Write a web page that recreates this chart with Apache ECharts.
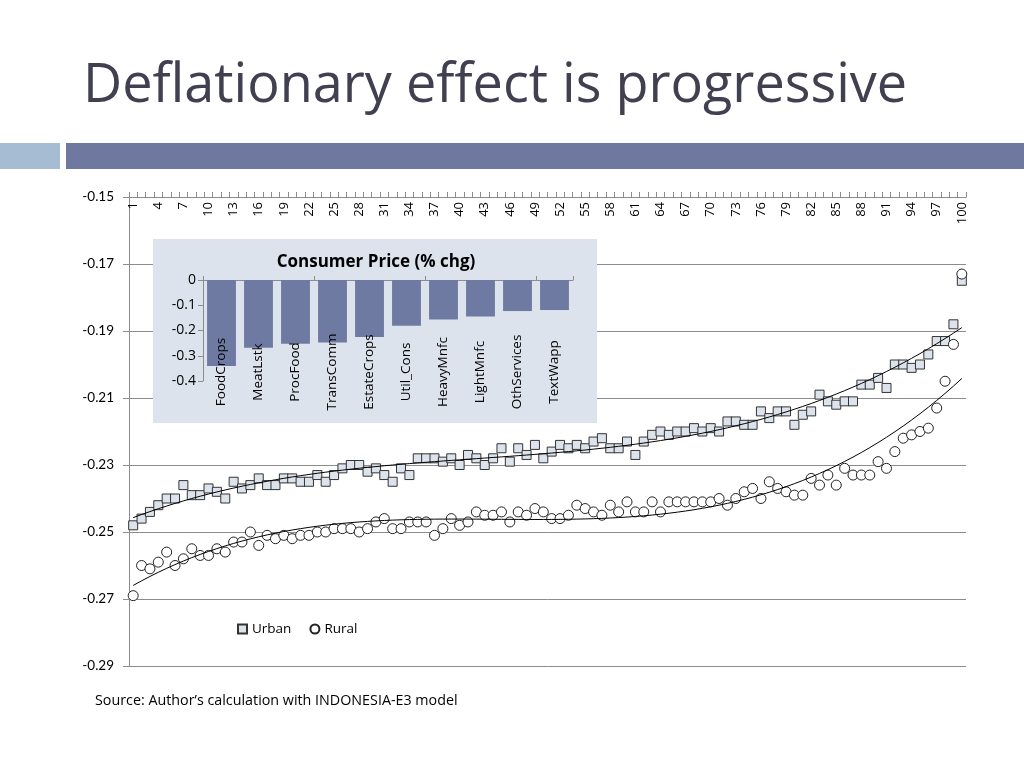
<!DOCTYPE html>
<html lang="en">
<head>
    <meta charset="UTF-8">
    <script src="https://cdn.jsdelivr.net/npm/echarts@6/dist/echarts.min.js"></script>
    <title>Deflationary effect is progressive</title>
    <style>
        html, body {
            margin: 0;
            padding: 0;
            background: #fff;
        }
        #main {
            width: 1024px;
            height: 768px;
        }
    </style>
</head>
<body>
    <div id="main"></div>
    <script>
        // household index 1..100 (category axis)
        const households = []
        for (let i = 1; i <= 100; i++) households.push(String(i))

        // price change per household
        const urban = [
            -0.248, -0.246, -0.244, -0.242, -0.240, -0.240, -0.236, -0.239, -0.239, -0.237,
            -0.238, -0.240, -0.235, -0.237, -0.236, -0.234, -0.236, -0.236, -0.234, -0.234,
            -0.235, -0.235, -0.233, -0.235, -0.233, -0.231, -0.230, -0.230, -0.232, -0.231,
            -0.233, -0.235, -0.231, -0.233, -0.228, -0.228, -0.228, -0.229, -0.228, -0.230,
            -0.227, -0.228, -0.230, -0.228, -0.225, -0.229, -0.225, -0.227, -0.224, -0.228,
            -0.226, -0.224, -0.225, -0.224, -0.225, -0.223, -0.222, -0.225, -0.225, -0.223,
            -0.227, -0.223, -0.221, -0.220, -0.221, -0.220, -0.220, -0.219, -0.220, -0.219,
            -0.220, -0.217, -0.217, -0.218, -0.218, -0.214, -0.216, -0.214, -0.214, -0.218,
            -0.215, -0.214, -0.209, -0.211, -0.212, -0.211, -0.211, -0.206, -0.206, -0.204,
            -0.207, -0.200, -0.200, -0.201, -0.200, -0.197, -0.193, -0.193, -0.188, -0.175
        ]
        const rural = [
            -0.269, -0.260, -0.261, -0.259, -0.256, -0.260, -0.258, -0.255, -0.257, -0.257,
            -0.255, -0.256, -0.253, -0.253, -0.250, -0.254, -0.251, -0.252, -0.251, -0.252,
            -0.251, -0.251, -0.250, -0.250, -0.249, -0.249, -0.249, -0.250, -0.249, -0.247,
            -0.246, -0.249, -0.249, -0.247, -0.247, -0.247, -0.251, -0.249, -0.246, -0.248,
            -0.247, -0.244, -0.245, -0.245, -0.244, -0.247, -0.244, -0.245, -0.243, -0.244,
            -0.246, -0.246, -0.245, -0.242, -0.243, -0.244, -0.245, -0.242, -0.244, -0.241,
            -0.244, -0.244, -0.241, -0.244, -0.241, -0.241, -0.241, -0.241, -0.241, -0.241,
            -0.240, -0.242, -0.240, -0.238, -0.237, -0.240, -0.235, -0.237, -0.238, -0.239,
            -0.239, -0.234, -0.236, -0.233, -0.236, -0.231, -0.233, -0.233, -0.233, -0.229,
            -0.231, -0.226, -0.222, -0.221, -0.220, -0.219, -0.213, -0.205, -0.194, -0.173
        ]
        const yTicks = [-0.29, -0.27, -0.25, -0.23, -0.21, -0.19, -0.17, -0.15]

        // inset: consumer price change by commodity
        const sectors = ['FoodCrops', 'MeatLstk', 'ProcFood', 'TransComm', 'EstateCrops',
            'Util_Cons', 'HeavyMnfc', 'LightMnfc', 'OthServices', 'TextWapp']
        const priceChg = [-0.341, -0.268, -0.252, -0.248, -0.226, -0.181, -0.156, -0.145, -0.123, -0.119]

        // 3rd order polynomial trend (least squares), like the spreadsheet trendline
        function polyTrend(ys, deg) {
            const n = ys.length
            const ts = ys.map((y, i) => (i - (n - 1) / 2) / ((n - 1) / 2))
            const m = deg + 1
            const A = []
            for (let r = 0; r < m; r++) {
                A.push([])
                for (let c = 0; c < m; c++) {
                    let s = 0
                    ts.forEach(t => { s += Math.pow(t, r + c) })
                    A[r].push(s)
                }
                let b = 0
                ts.forEach((t, i) => { b += Math.pow(t, r) * ys[i] })
                A[r].push(b)
            }
            for (let p = 0; p < m; p++) {
                let best = p
                for (let r = p + 1; r < m; r++) if (Math.abs(A[r][p]) > Math.abs(A[best][p])) best = r
                const tmp = A[p]; A[p] = A[best]; A[best] = tmp
                for (let r = 0; r < m; r++) {
                    if (r === p) continue
                    const f = A[r][p] / A[p][p]
                    for (let c = p; c <= m; c++) A[r][c] -= f * A[p][c]
                }
            }
            const coef = A.map((row, i) => row[m] / row[i])
            return ts.map(t => coef.reduce((s, k, i) => s + k * Math.pow(t, i), 0))
        }

        const font = 'Lato, "Noto Sans", sans-serif'
        const wideFont = '"Open Sans", Lato, sans-serif'
        const axisGray = '#8c8c8c'

        let myChart = echarts.init(document.getElementById('main'))
        let option = {
            backgroundColor: '#fff',
            animation: false,
            textStyle: { fontFamily: font },
            title: {
                text: 'Deflationary effect is progressive',
                left: 78,
                top: 55,
                textStyle: { fontSize: 54, fontWeight: 'normal', color: '#404050', fontFamily: wideFont }
            },
            legend: {
                data: ['Urban', 'Rural'],
                left: 232,
                top: 617,
                itemWidth: 9,
                itemHeight: 9,
                itemGap: 18,
                textStyle: { fontSize: 13.5, color: '#000', fontFamily: wideFont }
            },
            graphic: [
                { type: 'rect', shape: { x: 0, y: 143, width: 60, height: 26 }, style: { fill: '#a5bcd2' }, z: 1 },
                { type: 'rect', shape: { x: 66, y: 143, width: 958, height: 26 }, style: { fill: '#6f799f' }, z: 1 },
                { type: 'rect', shape: { x: 153, y: 239, width: 444, height: 184 }, style: { fill: '#dce3ec' }, z: 5 },
                {
                    type: 'text', x: 376, y: 262, z: 20,
                    style: { text: 'Consumer Price (% chg)', fill: '#000', font: 'bold 17px ' + wideFont, textAlign: 'center', textVerticalAlign: 'middle' }
                },
                {
                    type: 'text', x: 95, y: 701, z: 1,
                    style: { text: 'Source: Author’s calculation with INDONESIA-E3 model', fill: '#000', font: '14.3px ' + wideFont, textVerticalAlign: 'middle' }
                }
            ],
            grid: [
                { left: 129, right: 58, top: 197, bottom: 102 },
                { left: 203, right: 451, top: 280, bottom: 387, z: 10 }
            ],
            xAxis: [
                {
                    type: 'category',
                    gridIndex: 0,
                    position: 'top',
                    data: households,
                    boundaryGap: true,
                    axisLine: { lineStyle: { color: axisGray } },
                    axisTick: { show: true, interval: 0, length: 5, lineStyle: { color: axisGray } },
                    axisLabel: { interval: 2, rotate: -90, inside: true, margin: 5, fontSize: 13, color: '#000', fontFamily: wideFont }
                },
                {
                    type: 'category',
                    gridIndex: 1,
                    position: 'bottom',
                    data: sectors,
                    z: 10,
                    axisLine: { onZero: true, lineStyle: { color: axisGray } },
                    axisTick: { show: true, inside: true, length: 4, lineStyle: { color: axisGray } },
                    axisLabel: { show: false }
                },
                {
                    type: 'category',
                    gridIndex: 1,
                    position: 'bottom',
                    data: sectors,
                    z: 10,
                    offset: -9,
                    axisLine: { show: false, onZero: false },
                    axisTick: { show: false },
                    axisLabel: { interval: 0, rotate: 90, margin: 0, align: 'center', verticalAlign: 'middle', fontSize: 13.5, color: '#000', fontFamily: wideFont }
                }
            ],
            yAxis: [
                {
                    type: 'value',
                    gridIndex: 0,
                    min: -0.29,
                    max: -0.15,
                    axisLine: { show: true, lineStyle: { color: axisGray } },
                    axisTick: { show: true, length: 6, customValues: yTicks, lineStyle: { color: axisGray } },
                    axisLabel: { customValues: yTicks, margin: 15, fontSize: 13.5, color: '#000', fontFamily: font, formatter: v => v.toFixed(2) },
                    splitLine: { show: true, lineStyle: { color: axisGray, width: 1 } }
                },
                {
                    type: 'value',
                    gridIndex: 1,
                    min: -0.4,
                    max: 0,
                    interval: 0.1,
                    z: 10,
                    axisLine: { show: true, lineStyle: { color: axisGray } },
                    axisTick: { show: true, length: 5, lineStyle: { color: axisGray } },
                    axisLabel: { margin: 7, fontSize: 14, color: '#000', fontFamily: wideFont, formatter: v => (v === 0 ? '0' : v.toFixed(1)) },
                    splitLine: { show: false }
                }
            ],
            series: [
                {
                    name: 'Urban',
                    type: 'scatter',
                    xAxisIndex: 0,
                    yAxisIndex: 0,
                    data: urban,
                    symbol: 'rect',
                    symbolSize: 9,
                    itemStyle: { color: '#dce3ec', borderColor: '#333', borderWidth: 1, opacity: 1 }
                },
                {
                    name: 'Rural',
                    type: 'scatter',
                    xAxisIndex: 0,
                    yAxisIndex: 0,
                    data: rural,
                    symbol: 'circle',
                    symbolSize: 10,
                    itemStyle: { color: '#fff', borderColor: '#222', borderWidth: 1, opacity: 1 }
                },
                {
                    name: 'Urban trend',
                    type: 'line',
                    xAxisIndex: 0,
                    yAxisIndex: 0,
                    data: polyTrend(urban, 3),
                    symbol: 'none',
                    silent: true,
                    z: 3,
                    lineStyle: { color: '#000', width: 1 }
                },
                {
                    name: 'Rural trend',
                    type: 'line',
                    xAxisIndex: 0,
                    yAxisIndex: 0,
                    data: polyTrend(rural, 3),
                    symbol: 'none',
                    silent: true,
                    z: 3,
                    lineStyle: { color: '#000', width: 1 }
                },
                {
                    name: 'Consumer Price',
                    type: 'bar',
                    xAxisIndex: 1,
                    yAxisIndex: 1,
                    data: priceChg,
                    barCategoryGap: '22%',
                    z: 10,
                    itemStyle: { color: '#6f7aa3' }
                }
            ]
        }
        myChart.setOption(option)
    </script>
</body>
</html>
